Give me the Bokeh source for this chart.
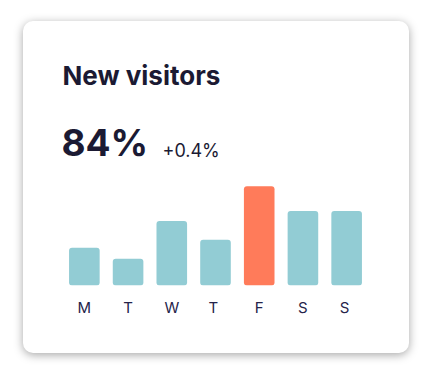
from bokeh.plotting import figure
from bokeh.models import ColumnDataSource, Label, Range1d
from bokeh.embed import file_html
from bokeh.resources import INLINE

days = ["M", "T", "W", "T ", "F", "S", "S "]
day_labels = {"T ": "T", "S ": "S"}
values = [38, 27, 65, 46, 100, 75, 75]
colors = ["#92CCD4", "#92CCD4", "#92CCD4", "#92CCD4", "#FF7B5A", "#92CCD4", "#92CCD4"]
title_text = "New visitors"
metric_text = "84%"
change_text = "+0.4%"

TEXT = "#1B1A33"
FONT = "Inter"

src = ColumnDataSource(dict(day=days, value=values, color=colors))

p = figure(
    width=386, height=332,
    x_range=days, y_range=Range1d(0, 266),
    output_backend="svg", toolbar_location=None,
    y_axis_location=None,
    min_border_left=39, min_border_right=41,
    min_border_top=0, min_border_bottom=68,
    border_fill_color=None, background_fill_color=None,
    outline_line_color=None,
    margin=(21, 0, 0, 23),
    styles={
        "background-color": "white",
        "border-radius": "10px",
        "box-shadow": "0 2px 10px rgba(0,0,0,0.35)",
    },
)

p.vbar(x="day", top="value", width=0.7, fill_color="color", line_color=None,
       border_radius=3, source=src)

p.xgrid.grid_line_color = None
p.ygrid.grid_line_color = None
p.x_range.range_padding = 0
ax = p.xaxis[0]
ax.axis_line_color = None
ax.major_tick_line_color = None
ax.minor_tick_line_color = None
ax.major_label_text_font = FONT
ax.major_label_text_font_size = "15px"
ax.major_label_text_color = "#25234A"
ax.major_label_standoff = 6
ax.major_label_overrides = day_labels

p.add_layout(Label(x=0, y=210, x_units="screen", y_units="screen", text=title_text,
                   text_font=FONT, text_font_size="26px", text_font_style="bold",
                   text_color=TEXT, text_baseline="alphabetic"))
p.add_layout(Label(x=-1, y=143, x_units="screen", y_units="screen", text=metric_text,
                   text_font=FONT, text_font_size="37px", text_font_style="bold",
                   text_color=TEXT, text_baseline="alphabetic"))
p.add_layout(Label(x=100, y=135, x_units="screen", y_units="screen", text=change_text,
                   text_font=FONT, text_font_size="18px",
                   text_color=TEXT, text_baseline="alphabetic"))

open("out.html", "w").write(file_html(p, INLINE))
